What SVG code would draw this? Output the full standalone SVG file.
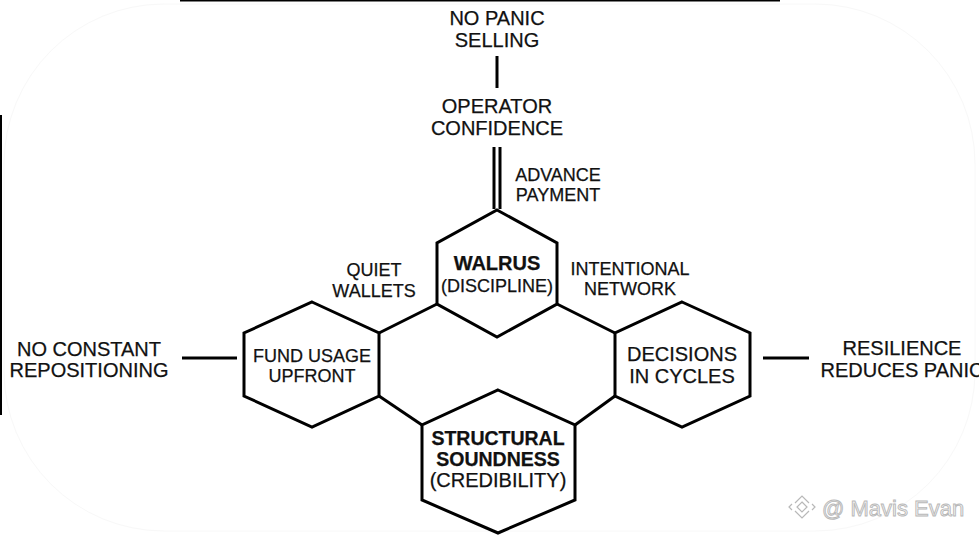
<svg xmlns="http://www.w3.org/2000/svg" width="979" height="535" viewBox="0 0 979 535">
<style>
.hex{fill:#fff;stroke:#000;stroke-width:3;stroke-linejoin:miter}
.ln{stroke:#000;stroke-width:3;fill:none}
text{font-family:"Liberation Sans",Arial,sans-serif;fill:#111;text-anchor:middle;stroke:#111;stroke-width:0.25}
.t20{font-size:20px}
.t18{font-size:18px}
.b{font-weight:bold}
.wm{font-size:22px;fill:#f4f4f4;stroke:#b8b8b8;stroke-width:0.9;text-anchor:start}
</style>
<rect x="0" y="0" width="979" height="535" fill="#fff"/>
<rect x="4" y="4" width="971" height="527" rx="160" fill="none" stroke="#f8f8f8" stroke-width="1"/>
<rect x="180" y="0" width="600" height="1.5" fill="#000"/>
<rect x="0" y="115" width="2" height="300" fill="#000"/>

<g id="connectors">
<line class="ln" x1="497" y1="56" x2="497" y2="88"/>
<line class="ln" x1="494" y1="147" x2="494" y2="209"/>
<line class="ln" x1="500" y1="147" x2="500" y2="209"/>
<line class="ln" x1="437" y1="304" x2="379" y2="333"/>
<line class="ln" x1="557" y1="304" x2="615" y2="333"/>
<line class="ln" x1="379" y1="396" x2="422" y2="425"/>
<line class="ln" x1="615" y1="396" x2="575" y2="425"/>
<line class="ln" x1="182" y1="358" x2="237" y2="358"/>
<line class="ln" x1="763" y1="358" x2="809" y2="358"/>
</g>

<g id="walrus">
<polygon class="hex" points="497,210 557,243 557,304 497,337 437,304 437,243"/>
<text class="t20 b" x="497" y="270">WALRUS</text>
<text class="t18" x="497" y="292">(DISCIPLINE)</text>
</g>
<g id="fund-usage">
<polygon class="hex" points="312,302 379,333 379,396 312,427 244,396 244,333"/>
<text class="t18" x="312" y="362">FUND USAGE</text>
<text class="t18" x="312" y="382">UPFRONT</text>
</g>
<g id="decisions">
<polygon class="hex" points="682,302 750,333 750,396 682,427 615,396 615,333"/>
<text class="t20" x="682" y="361">DECISIONS</text>
<text class="t20" x="682" y="383">IN CYCLES</text>
</g>
<g id="structural">
<polygon class="hex" points="498,390 575,425 575,500 498,533 422,500 422,425"/>
<text class="t20 b" x="498" y="445" style="font-size:19.5px">STRUCTURAL</text>
<text class="t20 b" x="498" y="466" style="font-size:19.5px">SOUNDNESS</text>
<text class="t20" x="498" y="487">(CREDIBILITY)</text>
</g>
<g id="no-panic">
<text class="t20" x="497" y="25">NO PANIC</text>
<text class="t20" x="497" y="47">SELLING</text>
</g>
<g id="operator">
<text class="t20" x="497" y="113">OPERATOR</text>
<text class="t20" x="497" y="135">CONFIDENCE</text>
</g>
<g id="advance">
<text class="t18" x="558" y="181">ADVANCE</text>
<text class="t18" x="558" y="201">PAYMENT</text>
</g>
<g id="quiet">
<text class="t18" x="374" y="276">QUIET</text>
<text class="t18" x="374" y="297">WALLETS</text>
</g>
<g id="intentional">
<text class="t18" x="630" y="275">INTENTIONAL</text>
<text class="t18" x="630" y="295">NETWORK</text>
</g>
<g id="no-constant">
<text class="t20" x="89" y="356">NO CONSTANT</text>
<text class="t20" x="89" y="377">REPOSITIONING</text>
</g>
<g id="resilience">
<text class="t20" x="902" y="355">RESILIENCE</text>
<text class="t20" x="902" y="377">REDUCES PANIC</text>
</g>
<g id="watermark" fill="none" stroke="#b8b8b8" stroke-width="1.2">
<polygon points="802,502 807,507 802,512 797,507"/>
<polyline points="792,504 789,507 792,510"/>
<polyline points="812,504 815,507 812,510"/>
<polyline points="795,511 802,518 809,511"/>
<polyline points="795,503 802,496 809,503"/>
<text class="wm" x="822" y="516">@ Mavis Evan</text>
</g>
</svg>
